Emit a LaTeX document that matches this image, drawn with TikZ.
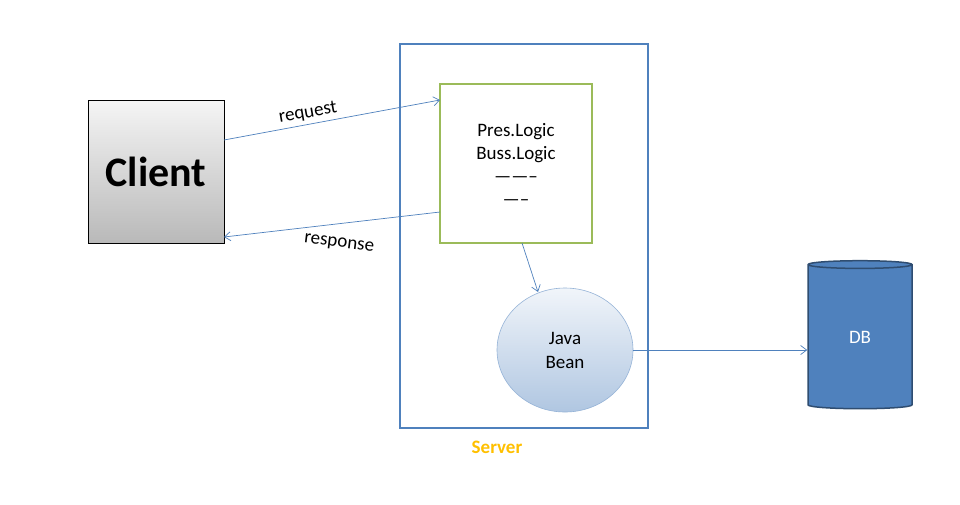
\documentclass[tikz,border=0pt]{standalone}
\usepackage{fontspec}
\setmainfont{Carlito}
\usetikzlibrary{arrows.meta,shapes.geometric}
\definecolor{blu}{HTML}{4F81BD}
\definecolor{grn}{HTML}{9BBB59}
\definecolor{gold}{HTML}{FFC000}
\begin{document}
\begin{tikzpicture}[x=1pt,y=-1pt,
  conn/.style={draw=blu,line width=0.7pt,-{Straight Barb[length=6pt,width=9pt]}},
  lbl/.style={font=\fontsize{19}{20}\selectfont}]
\useasboundingbox (0,0) rectangle (960,504);
\fill[white] (0,0) rectangle (960,504);
\node[draw=black,line width=1pt,top color=gray!8,bottom color=gray!55,minimum width=136pt,minimum height=143pt,inner sep=0pt,font=\fontsize{42}{44}\selectfont\bfseries] (client) at (156,171.5) {Client};
\node[draw=blu,line width=2.5pt,minimum width=248pt,minimum height=384pt,inner sep=0pt] (server) at (524,236) {};
\node[font=\fontsize{19}{20}\selectfont\bfseries,text=gold] (slbl) at (497,447) {Server};
\node[draw=grn,line width=2.5pt,minimum width=152pt,minimum height=159pt,inner sep=0pt] (logic) at (516,163.5) {};
\node[lbl,align=center] (txt) at (516,164) {Pres.Logic\\[3pt]Buss.Logic\\[3pt]--------\\[3pt]-----};
\node[ellipse,draw=blu!60,line width=0.6pt,top color=blu!8,bottom color=blu!45,minimum width=136pt,minimum height=124pt,inner sep=0pt,lbl,align=center] (bean) at (565,350) {Java\\[4pt]Bean};
\node[cylinder,shape border rotate=90,aspect=0.35,draw=blu!60!black,line width=1.5pt,fill=blu,minimum width=104pt,minimum height=148pt,inner sep=0pt,text=white,lbl] (db) at (860,337) {DB};
\coordinate (r1) at (224,140); \coordinate (r2) at (440,100);
\draw[conn] (r1) -- (r2);
\coordinate (s1) at (440,212); \coordinate (s2) at (224,237);
\draw[conn] (s1) -- (s2);
\node[lbl,rotate=10] (req) at (308,113) {request};
\node[lbl,rotate=-7] (resp) at (339,244) {response};
\coordinate (g1) at (522,243); \coordinate (g2) at (538,292);
\draw[conn] (g1) -- (g2);
\draw[conn] (bean.east) -- (db.west|-bean.east);
\end{tikzpicture}
\end{document}
